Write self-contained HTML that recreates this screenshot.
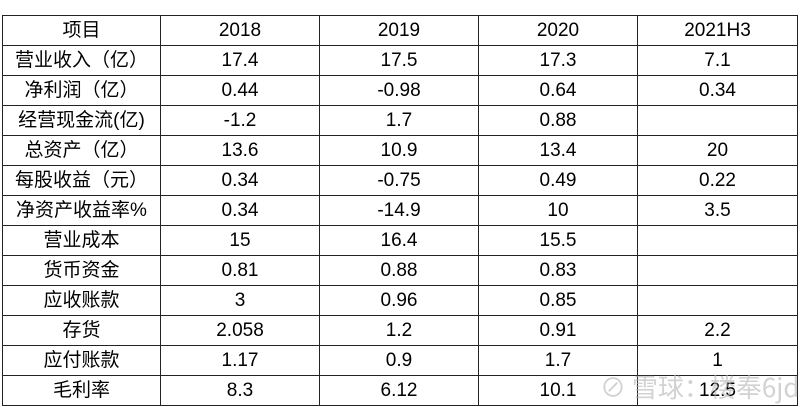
<!DOCTYPE html>
<html><head><meta charset="utf-8"><style>
body{margin:0;width:800px;height:407px;background:#fff;overflow:hidden;position:relative}
table{position:absolute;left:2px;top:15px;border-collapse:collapse;font-family:"Liberation Sans","Noto Sans CJK SC",sans-serif;font-size:19px;color:#000}
td{border:1.5px solid #222;height:29px;padding:0;text-align:center;line-height:29px}
.c0{width:157px}.c1{width:158px}.c2{width:158px}.c3{width:158px}.c4{width:159px}
.wm{position:absolute;left:600px;top:368px;font-family:"Noto Sans CJK SC",sans-serif;font-size:26px;color:rgba(180,180,180,0.6)}
</style></head><body>
<table>
<tr><td class="c0">项目</td><td class="c1">2018</td><td class="c2">2019</td><td class="c3">2020</td><td class="c4">2021H3</td></tr>
<tr><td>营业收入（亿）</td><td>17.4</td><td>17.5</td><td>17.3</td><td>7.1</td></tr>
<tr><td>净利润（亿）</td><td>0.44</td><td>-0.98</td><td>0.64</td><td>0.34</td></tr>
<tr><td>经营现金流(亿)</td><td>-1.2</td><td>1.7</td><td>0.88</td><td></td></tr>
<tr><td>总资产（亿）</td><td>13.6</td><td>10.9</td><td>13.4</td><td>20</td></tr>
<tr><td>每股收益（元）</td><td>0.34</td><td>-0.75</td><td>0.49</td><td>0.22</td></tr>
<tr><td>净资产收益率%</td><td>0.34</td><td>-14.9</td><td>10</td><td>3.5</td></tr>
<tr><td>营业成本</td><td>15</td><td>16.4</td><td>15.5</td><td></td></tr>
<tr><td>货币资金</td><td>0.81</td><td>0.88</td><td>0.83</td><td></td></tr>
<tr><td>应收账款</td><td>3</td><td>0.96</td><td>0.85</td><td></td></tr>
<tr><td>存货</td><td>2.058</td><td>1.2</td><td>0.91</td><td>2.2</td></tr>
<tr><td>应付账款</td><td>1.17</td><td>0.9</td><td>1.7</td><td>1</td></tr>
<tr><td>毛利率</td><td>8.3</td><td>6.12</td><td>10.1</td><td>12.5</td></tr>
</table>
<div class="wm">⊘ 雪球：楼奉6jd</div>
</body></html>
